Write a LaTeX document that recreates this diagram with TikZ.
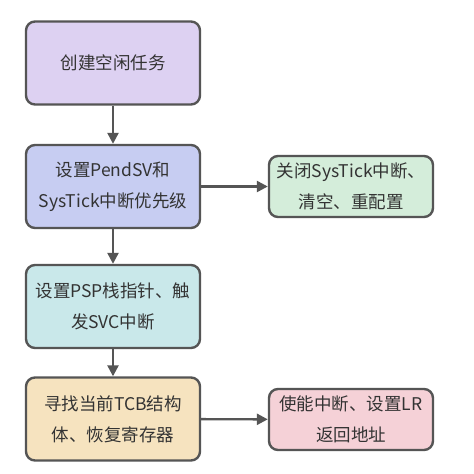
\documentclass[tikz,border=0pt]{standalone}
\usepackage{fontspec}
\setmainfont{Noto Sans CJK SC}
\usetikzlibrary{arrows.meta}
\definecolor{edge}{HTML}{555555}
\definecolor{txt}{HTML}{333333}
\definecolor{cpurple}{HTML}{DDD1F2}
\definecolor{cblue}{HTML}{C7CDF2}
\definecolor{cgreen}{HTML}{D4EDDA}
\definecolor{ccyan}{HTML}{C9E8EA}
\definecolor{ctan}{HTML}{F6E3BF}
\definecolor{cpink}{HTML}{F5D1D7}
\begin{document}
\begin{tikzpicture}[x=1pt,y=-1pt,
  box/.style={draw=edge,line width=2.4pt,rounded corners=9pt,align=center,
    text=txt,font=\fontsize{17.5}{31}\selectfont,inner sep=0pt},
  mainbox/.style={box,minimum width=174pt,minimum height=83pt},
  sidebox/.style={box,minimum width=164pt,minimum height=61pt},
  arr/.style={draw=edge,line width=2.4pt,-{Triangle[length=11pt,width=11pt]}}]
\useasboundingbox (0,0) rectangle (474,474);
\fill[white] (0,0) rectangle (474,474);
\node[mainbox,fill=cpurple] (a) at (113,63) {创建空闲任务};
\node[mainbox,fill=cblue] (b) at (113,186.5) {设置PendSV和\\SysTick中断优先级};
\node[mainbox,fill=ccyan] (c) at (113,306.5) {设置PSP栈指针、触\\发SVC中断};
\node[mainbox,fill=ctan] (d) at (113,419) {寻找当前TCB结构\\体、恢复寄存器};
\node[sidebox,fill=cgreen] (e) at (351,186.5) {关闭SysTick中断、\\清空、重配置};
\node[sidebox,fill=cpink] (f) at (351,419.5) {使能中断、设置LR\\返回地址};
\draw[arr] (a) -- (b);
\draw[arr] (b) -- (c);
\draw[arr] (c) -- (d);
\draw[arr] (b) -- (e);
\draw[arr] (d) -- (f);
\end{tikzpicture}
\end{document}
